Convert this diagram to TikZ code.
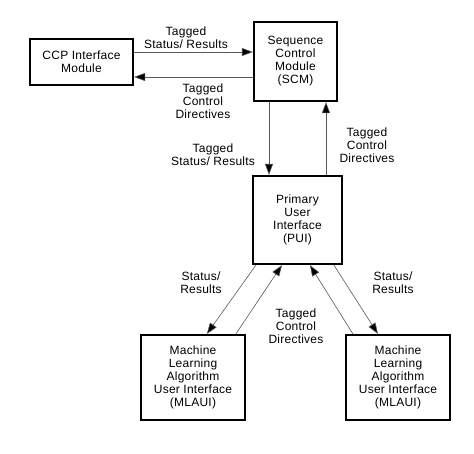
\documentclass[tikz,border=0pt]{standalone}
\usepackage{fontspec}
\setmainfont[LetterSpace=2]{Liberation Sans}
\usetikzlibrary{arrows.meta}

\begin{document}
\begin{tikzpicture}[x=1pt, y=-1pt,
		font=\fontsize{12}{13}\selectfont,
		block/.style={draw, line width=2.2pt, align=center, inner sep=2pt},
		lbl/.style={align=center, inner sep=0pt},
		arr/.style={draw=black!65, line width=0.6pt, -{Triangle[length=11pt, width=8pt, fill=black]}}]
		
		\useasboundingbox (0,0) rectangle (474,453);
		
		% Kaesten
		\node[block, minimum width=103pt, minimum height=46pt] (ccp) at (81.5,62) {CCP Interface\\Module};
		\node[block, minimum width=83pt, minimum height=79pt] (scm) at (295.5,61.5) {Sequence\\Control\\Module\\(SCM)};
		\node[block, minimum width=89pt, minimum height=88pt] (pui) at (297.5,220) {Primary\\User\\Interface\\(PUI)};
		\node[block, minimum width=104pt, minimum height=85pt] (mlL) at (193,377.5) {Machine\\Learning\\Algorithm\\User Interface\\(MLAUI)};
		\node[block, minimum width=104pt, minimum height=85pt] (mlR) at (398,377.5) {Machine\\Learning\\Algorithm\\User Interface\\(MLAUI)};
		
		% Pfeile oben
		\draw[arr] ([yshift=10pt]ccp.east) -- ([yshift=10pt]ccp.east -| scm.west);
		\draw[arr] ([yshift=-15pt]ccp.east -| scm.west) -- ([yshift=-15pt]ccp.east);
		\draw[arr] ([xshift=-26.5pt]scm.south) -- ([xshift=-26.5pt]scm.south |- pui.north);
		\draw[arr] ([xshift=30.5pt]scm.south |- pui.north) -- ([xshift=30.5pt]scm.south);
		
		% Pfeile unten
		\draw[arr] ([xshift=4pt]pui.south west) -- ([xshift=67pt]mlL.north west);
		\draw[arr] ([xshift=96pt]mlL.north west) -- ([xshift=30pt]pui.south west);
		\draw[arr] ([xshift=8pt]mlR.north west) -- ([xshift=58pt]pui.south west);
		\draw[arr] ([xshift=82pt]pui.south west) -- ([xshift=33pt]mlR.north west);
		
		% Beschriftungen
		\node[lbl] (l1) at (186,37.5) {Tagged\\Status/ Results};
		\node[lbl] (l2) at (203,101) {Tagged\\Control\\Directives};
		\node[lbl] (l3) at (213,154.5) {Tagged\\Status/ Results};
		\node[lbl] (l4) at (367,145) {Tagged\\Control\\Directives};
		\node[lbl] (l5) at (201,283) {Status/\\Results};
		\node[lbl] (l6) at (296,326) {Tagged\\Control\\Directives};
		\node[lbl] (l7) at (393,283) {Status/\\Results};
		
	\end{tikzpicture}
\end{document}
